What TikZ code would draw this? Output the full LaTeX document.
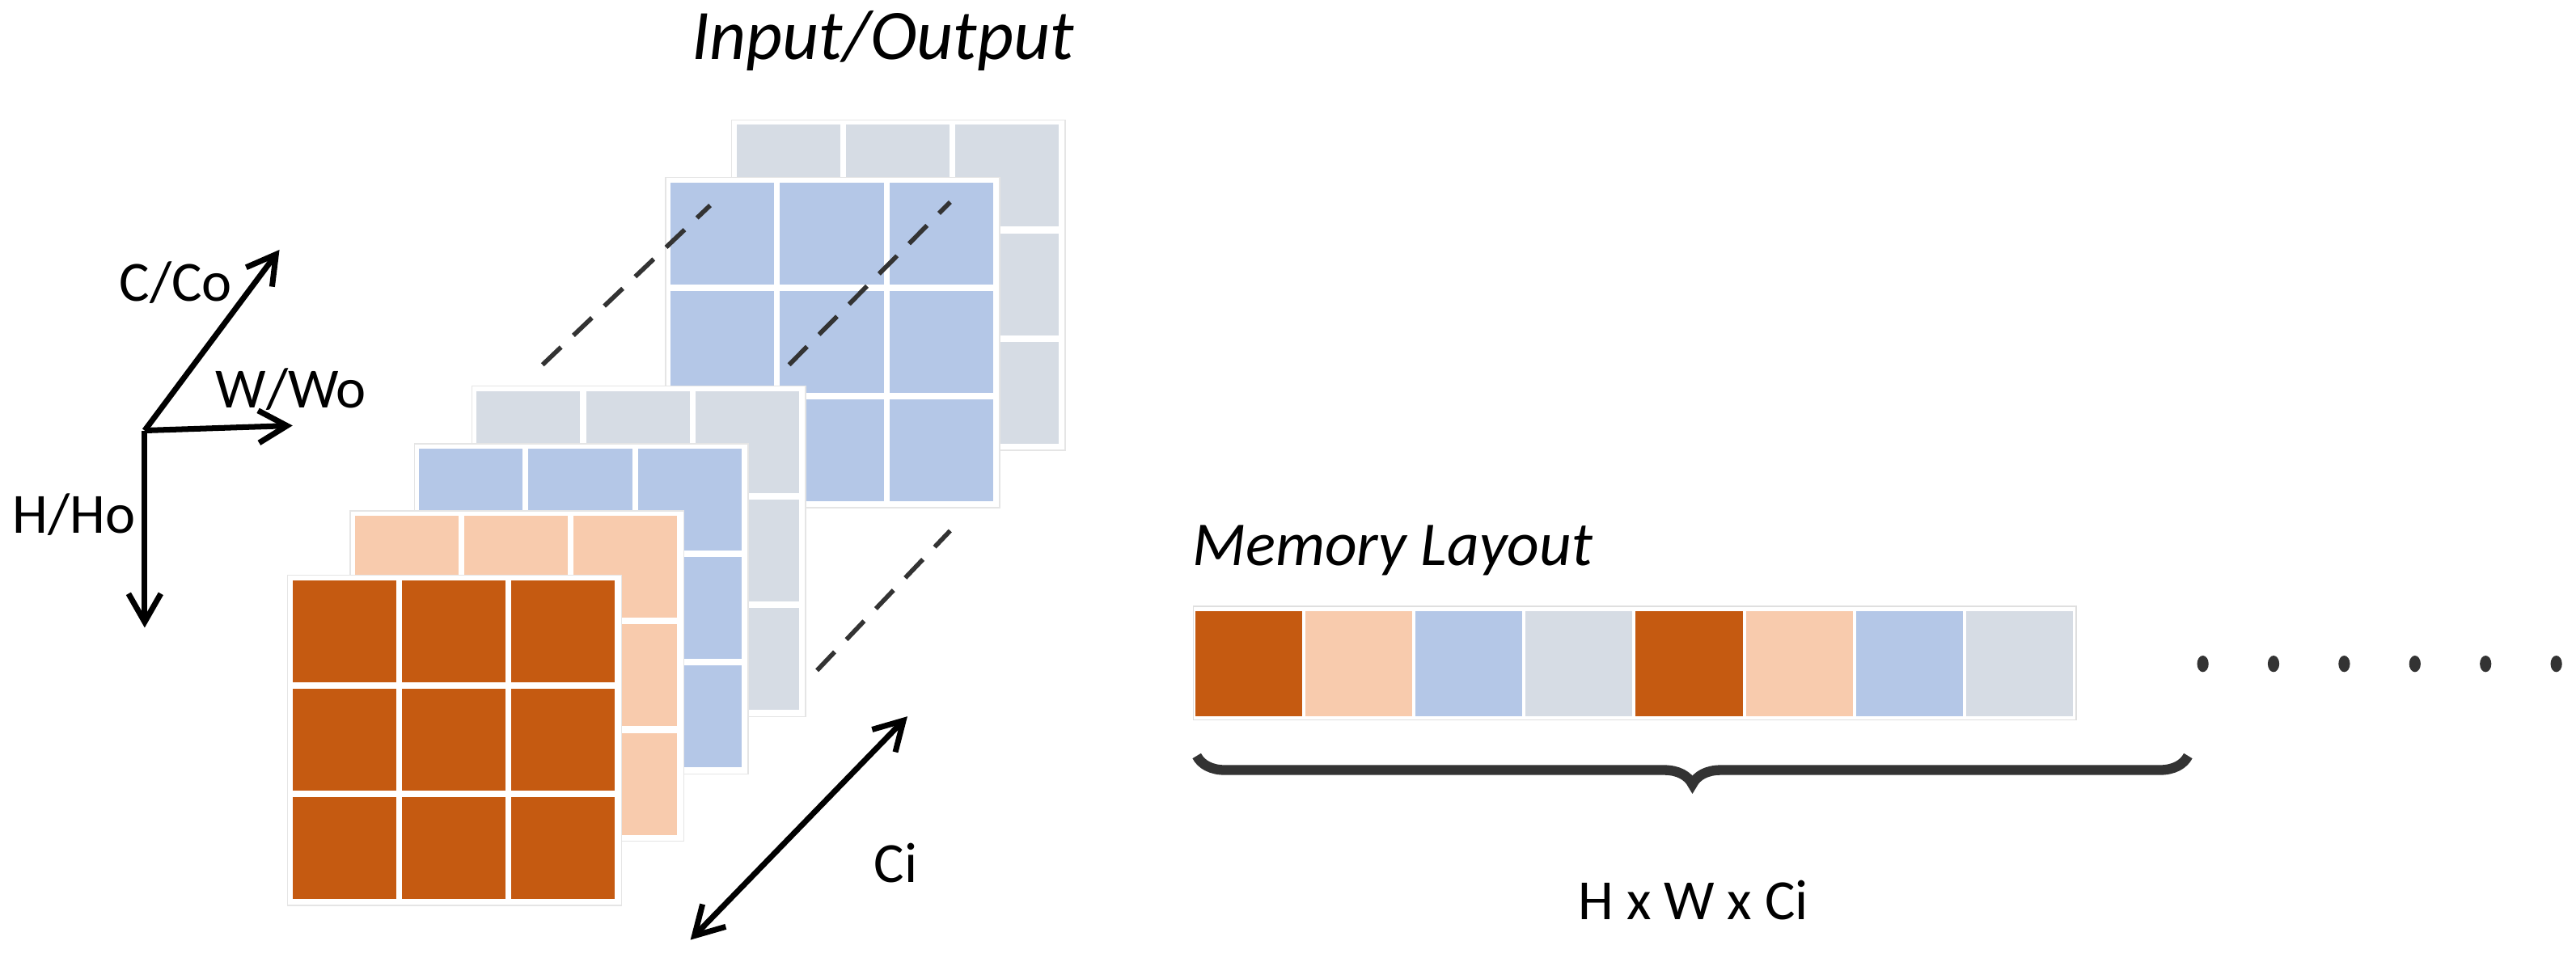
\documentclass[tikz,border=0pt]{standalone}
\usepackage{fontspec}
\setmainfont{Carlito}
\usetikzlibrary{decorations.pathreplacing,arrows.meta}
\definecolor{cOr}{HTML}{C55A11}
\definecolor{cPe}{HTML}{F8CBAD}
\definecolor{cBl}{HTML}{B4C7E7}
\definecolor{cGr}{HTML}{D6DCE4}
% strato 3x3: angolo in alto a sinistra e colore
\newcommand{\strato}[3]{%
   \fill[white,draw=gray!20] (#1,#2) rectangle ++(203,201);
   \foreach \i in {0,1,2} \foreach \j in {0,1,2}
   {\fill[#3] (#1+3+\i*66.5,#2+3+\j*66) rectangle ++(63,62);}}
\begin{document}
\begin{tikzpicture}[x=0.2033mm,y=-0.2033mm,
   freccia/.style={-{Straight Barb[length=3.5mm,width=4mm,line width=2pt]},line width=2pt},
   tratt/.style={dash pattern=on 9pt off 6pt,line width=1.6pt,black!80},
   etich/.style={font=\fontsize{20}{24}\selectfont}]
\useasboundingbox (0,0) rectangle (1567,585);
% strati posteriori
   \strato{445}{73}{cGr} \strato{405}{108}{cBl}
   \coordinate (d1a) at (330,222); \coordinate (d1b) at (432,125);
   \coordinate (d2a) at (480,222); \coordinate (d2b) at (578,123);
   \coordinate (d3a) at (497,408); \coordinate (d3b) at (578,323);
   \draw[tratt] (d1a) -- (d1b); \draw[tratt] (d2a) -- (d2b);
   \draw[tratt] (d3a) -- (d3b);
% strati anteriori
   \strato{287}{235}{cGr} \strato{252}{270}{cBl}
   \strato{213}{311}{cPe} \strato{175}{350}{cOr}
\node[font=\fontsize{25}{30}\selectfont\itshape] (io) at (537,25) {Input/Output};
% assi
   \coordinate (O) at (88,262); \coordinate (C) at (170,152);
   \coordinate (W) at (178,259); \coordinate (H) at (88,382);
   \draw[freccia] (O) -- (C); \draw[freccia] (O) -- (W);
   \draw[freccia] (O) -- (H);
   \node[etich] (lc) at (107,172) {C/Co}; \node[etich] (lw) at (177,237) {W/Wo};
   \node[etich] (lh) at (45,313) {H/Ho};
   \coordinate (ci1) at (420,572); \coordinate (ci2) at (552,436);
   \draw[{Straight Barb[length=3.5mm,width=4mm,line width=2pt]}-{Straight Barb[length=3.5mm,width=4mm,line width=2pt]},line width=2pt] (ci1) -- (ci2);
   \node[etich] (lci) at (545,525) {Ci};
% memoria
   \node[font=\fontsize{22}{26}\selectfont\itshape] (ml) at (847,335) {Memory Layout};
   \draw[gray!25] (726,369) rectangle (1263,438);
   \foreach \c [count=\k from 0] in {cOr,cPe,cBl,cGr,cOr,cPe,cBl,cGr}
   {\fill[\c] (727+\k*67,372) rectangle ++(65,64);}
   \foreach \k in {0,...,5} {\fill[black!80] (1340+\k*43,404) ellipse (3.5 and 5);}
   \coordinate (b1) at (728,460); \coordinate (b2) at (1331,460);
   \draw[decorate,decoration={brace,mirror,amplitude=10pt},line width=3.5pt,black!80]
   (b1) -- (b2);
   \node[etich] (hwc) at (1030,548) {H x W x Ci};
\end{tikzpicture}
\end{document}
